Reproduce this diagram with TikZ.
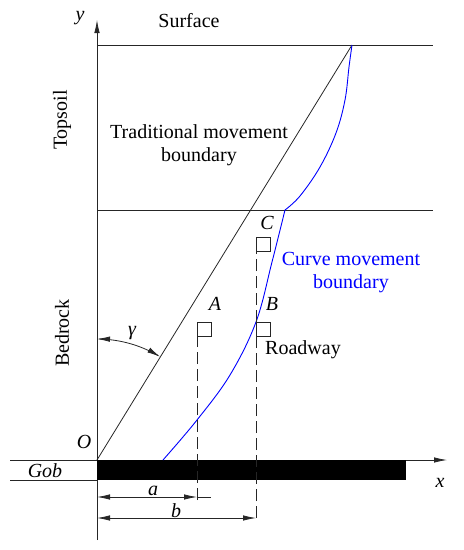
\documentclass[tikz,border=0pt]{standalone}
\usepackage{fontspec}
\setmainfont{Liberation Serif}
\usetikzlibrary{arrows.meta}
\begin{document}
\begin{tikzpicture}[x=1pt,y=-1pt,
  thinline/.style={line width=0.8pt,black!85},
  tip/.style={-{Latex[length=13pt,width=5.5pt]}},
  dtip/.style={{Latex[length=13pt,width=5.5pt]}-{Latex[length=13pt,width=5.5pt]}},
  dashline/.style={line width=0.8pt,black!85,dash pattern=on 12pt off 5pt},
  lbl/.style={font=\fontsize{20}{23}\selectfont,inner sep=0pt,align=center},
  ilbl/.style={font=\fontsize{20}{23}\selectfont\itshape,inner sep=0pt},
  flagbox/.style={line width=0.8pt,black!85},
  blueline/.style={line width=0.9pt,blue}]
\useasboundingbox (0,0) rectangle (464,550);
% key points
\coordinate (O) at (97,460);
\coordinate (ybot) at (97,540);
\coordinate (ytop) at (97,20);
\coordinate (xleft) at (10,460);
\coordinate (xright) at (447,460);
\coordinate (gl) at (10,480);
\coordinate (gr) at (97,480);
\coordinate (s1) at (97,45);
\coordinate (s2) at (433,45);
\coordinate (t1) at (97,210);
\coordinate (t2) at (433,210);
\coordinate (top) at (352,45);
% axes and layers
\draw[thinline,tip] (ybot) -- (ytop);
\draw[thinline,tip] (xleft) -- (xright);
\draw[thinline] (gl) -- (gr);
\draw[thinline] (s1) -- (s2);
\draw[thinline] (t1) -- (t2);
\fill[black] (97,460) rectangle (406,480);
% traditional boundary
\draw[thinline] (O) -- (top);
% curve boundary
\draw[blueline] plot[smooth,tension=0.6] coordinates {(163,460) (197,420) (230,375) (256,322) (272,262) (285,210)};
\draw[blueline] plot[smooth,tension=0.6] coordinates {(285,210) (300,196) (320,167) (336,133) (345,100) (349,67) (352,45)};
% gamma arc
\draw[thinline,dtip] plot[domain=90:58.6,samples=30,variable=\t] ({97+121*cos(\t)},{460-121*sin(\t)});
% roadways
\coordinate (Abot) at (197,500);
\coordinate (Atop) at (197,336);
\coordinate (Bbot) at (256,518);
\coordinate (Btop) at (256,336);
\coordinate (Cbot) at (256,322);
\coordinate (Ctop) at (256,251);
\draw[dashline] (Abot) -- (Atop);
\draw[dashline] (Bbot) -- (Btop);
\draw[dashline] (Cbot) -- (Ctop);
\draw[flagbox] (197,322) rectangle (211,336);
\draw[flagbox] (256,322) rectangle (270,336);
\draw[flagbox] (256,237) rectangle (270,251);
% dimensions
\coordinate (a1) at (97,497);
\coordinate (a2) at (197,497);
\coordinate (a3) at (211,497);
\coordinate (b1) at (97,518);
\coordinate (b2) at (256,518);
\draw[thinline,dtip] (a1) -- (a2);
\draw[thinline] (a2) -- (a3);
\draw[thinline,dtip] (b1) -- (b2);
% labels
\node[ilbl] (ly) at (80,18) {y};
\node[lbl] (lsurf) at (189,21) {Surface};
\node[lbl,rotate=90] (ltop) at (62,120) {Topsoil};
\node[lbl,rotate=90] (lbed) at (62,333) {Bedrock};
\node[lbl] (ltrad) at (199,145) {Traditional movement\\boundary};
\node[lbl,text=blue] (lcurve) at (351,273) {Curve movement\\boundary};
\node[ilbl] (lA) at (215,304) {A};
\node[ilbl] (lB) at (272,304) {B};
\node[ilbl] (lC) at (267,223) {C};
\node[lbl] (lroad) at (303,350) {Roadway};
\node[ilbl] (lg) at (132,333) {γ};
\node[ilbl] (lO) at (84,442) {O};
\node[ilbl] (lgob) at (45,471) {Gob};
\node[ilbl] (lx) at (440,483) {x};
\node[ilbl] (la) at (153,491) {a};
\node[ilbl] (lb) at (176,511) {b};
\end{tikzpicture}
\end{document}
